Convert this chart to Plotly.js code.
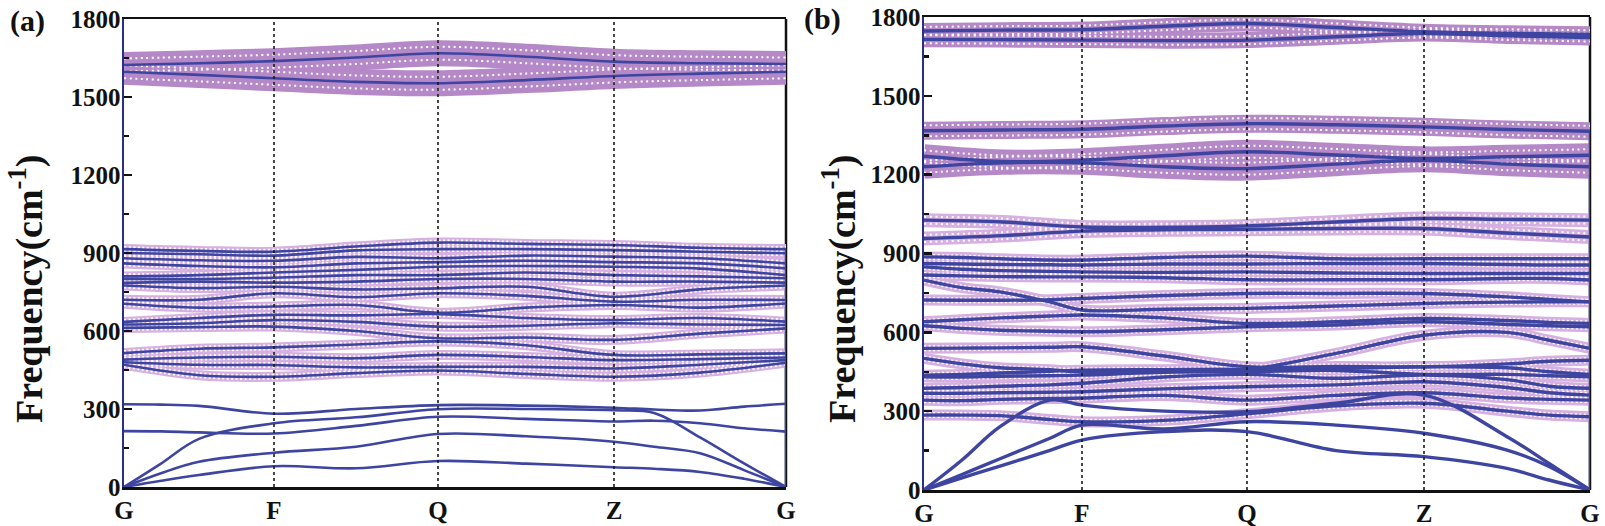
<!DOCTYPE html>
<html>
<head>
<meta charset="utf-8">
<script src="https://cdn.plot.ly/plotly-3.0.1.min.js"></script>
<style>
  html, body { margin: 0; padding: 0; background: #fff; }
  #chart { width: 1605px; height: 526px; }
</style>
</head>
<body>
<div id="chart"></div>
<script>
// ---------- k-path ----------
const kLabels = ['G', 'F', 'Q', 'Z', 'G'];

// ---------- panel (a) ----------
const kTicksA = [0, 150, 314, 490, 662];
const kA = [0, 75, 150, 232, 314, 402, 490, 576, 662];
const kALow = [0, 37, 75, 150, 232, 314, 402, 490, 530, 576, 620, 662];

// acoustic and low optical branches (kALow)
const aLow1 = [0, 24, 46, 80, 72, 100, 90, 76, 70, 58, 32, 0];
const aLow2 = [0, 53, 97, 132, 155, 204, 195, 174, 155, 130, 65, 0];
const aLow3 = [0, 90, 185, 245, 268, 299, 300, 295, 285, 191, 91, 0];
const aLow4 = [215, 214, 210, 206, 235, 270, 262, 252, 255, 245, 226, 213];
const aLow5 = [318, 317, 312, 282, 300, 315, 313, 305, 298, 294, 309, 320];

// 400-950 cm-1 group (kA)
const aMid1  = [470, 430, 424, 438, 448, 435, 424, 440, 478];
const aMid2  = [480, 470, 469, 460, 462, 462, 456, 470, 488];
const aMid3  = [490, 498, 501, 495, 508, 500, 488, 492, 498];
const aMid4  = [515, 532, 537, 548, 560, 545, 508, 510, 514];
const aMid5  = [612, 615, 617, 600, 572, 575, 566, 590, 610];
const aMid6  = [625, 630, 642, 635, 617, 620, 630, 625, 623];
const aMid7  = [635, 650, 662, 660, 665, 650, 642, 650, 636];
const aMid8  = [705, 690, 694, 700, 670, 690, 700, 690, 706];
const aMid9  = [720, 720, 745, 730, 745, 735, 713, 720, 719];
const aMid10 = [775, 765, 770, 760, 764, 770, 732, 760, 775];
const aMid11 = [785, 790, 786, 790, 800, 800, 790, 790, 786];
const aMid12 = [800, 800, 805, 815, 815, 825, 815, 810, 803];
const aMid13 = [810, 815, 825, 835, 847, 850, 847, 840, 815];
const aMid14 = [860, 850, 845, 860, 865, 870, 865, 860, 841];
const aMid15 = [880, 872, 870, 885, 880, 890, 886, 880, 860];
const aMid16 = [900, 895, 890, 910, 915, 915, 911, 905, 899];
const aMid17 = [915, 908, 905, 925, 940, 935, 931, 920, 915];

// 1500-1700 cm-1 group (kA)
const aHigh1 = [1623, 1630, 1638, 1652, 1668, 1655, 1636, 1630, 1627];
const aHigh2 = [1597, 1585, 1572, 1558, 1553, 1565, 1581, 1590, 1597];

// ---------- panel (b) ----------
const kTicksB = [0, 158, 323, 500, 666];
const kB = [0, 79, 158, 240, 323, 412, 500, 583, 666];
const kBLow = [0, 38, 76, 126, 158, 240, 323, 412, 500, 583, 625, 666];

// 0-900 cm-1 branches (kBLow)
const bLow1  = [0, 46, 91, 151, 190, 222, 222, 150, 127, 82, 38, 0];
const bLow2  = [0, 59, 119, 197, 247, 232, 260, 247, 216, 152, 90, 0];
const bLow3  = [0, 114, 241, 342, 323, 300, 298, 330, 361, 203, 101, 0];
const bLow4  = [285, 285, 283, 268, 260, 265, 290, 320, 330, 300, 285, 279];
const bLow5  = [342, 340, 345, 348, 350, 360, 342, 360, 370, 350, 345, 342];
const bLow6  = [368, 368, 370, 372, 374, 385, 393, 400, 412, 390, 370, 361];
const bLow7  = [387, 390, 395, 400, 406, 430, 440, 425, 437, 420, 395, 387];
const bLow8  = [431, 430, 433, 435, 437, 448, 450, 455, 440, 440, 435, 431];
const bLow9  = [437, 440, 445, 452, 456, 458, 460, 462, 469, 465, 450, 440];
const bLow10 = [501, 480, 465, 458, 449, 452, 458, 520, 589, 600, 570, 539];
const bLow11 = [539, 540, 541, 543, 545, 510, 469, 470, 469, 480, 490, 494];
const bLow12 = [625, 615, 608, 604, 602, 610, 621, 628, 640, 630, 625, 621];
const bLow13 = [640, 648, 655, 662, 666, 655, 634, 640, 653, 645, 638, 634];
const bLow14 = [723, 722, 722, 724, 729, 740, 748, 748, 748, 735, 725, 716];
const bLow15 = [799, 770, 754, 716, 685, 688, 691, 700, 710, 715, 716, 716];
const bLow16 = [818, 815, 812, 811, 811, 808, 800, 800, 800, 805, 805, 799];
const bLow17 = [849, 840, 835, 832, 830, 828, 830, 826, 824, 824, 824, 824];
const bLow18 = [862, 860, 858, 857, 856, 860, 860, 862, 862, 858, 856, 856];
const bLow19 = [887, 885, 880, 875, 875, 885, 890, 880, 880, 880, 880, 880];

// 900-1050 cm-1 (kB)
const bMid1 = [1027, 1020, 1001, 1000, 1005, 1020, 1033, 1030, 1027];
const bMid2 = [957, 968, 985, 990, 992, 995, 995, 978, 963];
// 1180-1300 cm-1 (kB)
const bCH1 = [1270, 1250, 1255, 1272, 1287, 1275, 1262, 1268, 1274];
const bCH2 = [1230, 1245, 1245, 1230, 1223, 1240, 1255, 1240, 1230];
// ~1370 cm-1 (kB)
const bCN1 = [1367, 1370, 1373, 1385, 1394, 1390, 1382, 1372, 1365];
// 1700-1780 cm-1 (kB)
const bCO1 = [1747, 1750, 1752, 1765, 1775, 1760, 1744, 1738, 1734];
const bCO2 = [1715, 1714, 1712, 1710, 1712, 1725, 1737, 1728, 1722];

// ---------- drawing ----------
const W = 1605, H = 526;
const FONT = '"Liberation Serif", "Times New Roman", serif';
const BLUE = '#3d45a0';
const PURPLE = '#b588c8';
const PINK = '#d6b0e0';
const YMAX = 1800;

// plot rectangles in pixels
const boxA = { x0: 124, x1: 786, y0: 19, y1: 487 };
const boxB = { x0: 924, x1: 1590, y0: 17, y1: 490 };

const halos = [], dots = [], lines = [];

function trace(x, y, xa, ya, line) {
  return { x: x, y: y, xaxis: xa, yaxis: ya, mode: 'lines',
    line: Object.assign({ shape: 'spline' }, line), hoverinfo: 'skip', showlegend: false };
}

// st.halo: width of the projection band around each branch (px)
// st.ring: inner open width for thin rings (px); st.dotPx: offset of the open-circle rows (px)
function addGroup(grid, bands, xa, ya, box, st) {
  const unitPerPx = YMAX / (box.y1 - box.y0);
  bands.forEach(y => {
    if (st.halo) halos.push(trace(grid, y, xa, ya, { color: st.haloColor, width: st.halo }));
    if (st.ring) dots.push(trace(grid, y, xa, ya, { color: '#ffffff', width: st.ring, dash: '2px,2.5px' }));
    if (st.dotPx) {
      [-1, 1].forEach(s => {
        dots.push(trace(grid, y.map(v => v + s * st.dotPx * unitPerPx), xa, ya,
          { color: '#ffffff', width: 2, dash: '2px,3.5px' }));
      });
    }
    lines.push(trace(grid, y, xa, ya, { color: BLUE, width: st.lw }));
  });
}

// panel (a)
addGroup(kALow, [aLow1, aLow2, aLow3, aLow4, aLow5], 'x', 'y', boxA, { lw: 2.6 });
addGroup(kA, [aMid1, aMid2, aMid3, aMid4, aMid5, aMid6, aMid7, aMid8, aMid9, aMid10,
              aMid11, aMid12, aMid13, aMid14, aMid15, aMid16, aMid17], 'x', 'y', boxA,
         { lw: 2.6, halo: 10, haloColor: PINK, ring: 6 });
addGroup(kA, [aHigh1, aHigh2], 'x', 'y', boxA,
         { lw: 2.6, halo: 26, haloColor: PURPLE, dotPx: 6.5 });

// panel (b)
addGroup(kBLow, [bLow1, bLow2, bLow3], 'x2', 'y2', boxB, { lw: 3.4 });
addGroup(kBLow, [bLow4, bLow5, bLow6, bLow7, bLow8, bLow9, bLow10, bLow11, bLow12, bLow13,
                 bLow14, bLow15, bLow16, bLow17, bLow18, bLow19], 'x2', 'y2', boxB,
         { lw: 3.4, halo: 11, haloColor: PINK, ring: 6 });
addGroup(kB, [bMid1, bMid2], 'x2', 'y2', boxB, { lw: 3.4, halo: 14, haloColor: PINK, dotPx: 3.5 });
addGroup(kB, [bCH1, bCH2], 'x2', 'y2', boxB, { lw: 3.4, halo: 24, haloColor: PURPLE, dotPx: 6 });
addGroup(kB, [bCN1], 'x2', 'y2', boxB, { lw: 3.4, halo: 18, haloColor: PURPLE, dotPx: 5.5 });
addGroup(kB, [bCO1, bCO2], 'x2', 'y2', boxB, { lw: 3.4, halo: 16, haloColor: PURPLE, dotPx: 4 });

// band edge at the closing G point
function edgeTrace(k, top, xa, ya) {
  return { x: [k, k], y: [0, top], xaxis: xa, yaxis: ya, mode: 'lines',
    line: { color: BLUE, width: 2.5 }, hoverinfo: 'skip', showlegend: false, cliponaxis: false };
}
const edges = [
  edgeTrace(kTicksA[4], aMid17[aMid17.length - 1], 'x', 'y'),
  edgeTrace(kTicksB[4], bCN1[bCN1.length - 1], 'x2', 'y2')
];

const data = halos.concat(dots, lines, edges);

function xAxis(box, ticks, anchor) {
  return {
    domain: [box.x0 / W, box.x1 / W], anchor: anchor,
    range: [0, ticks[ticks.length - 1]],
    tickmode: 'array', tickvals: ticks, ticktext: kLabels,
    ticks: '', showline: true, linecolor: '#111', linewidth: 2.5, mirror: true,
    showgrid: false, zeroline: false, ticklabelstandoff: -1,
    tickfont: { family: FONT, size: 25, weight: 'bold', color: '#111' },
    fixedrange: true
  };
}
function yAxis(box, anchor) {
  return {
    domain: [1 - box.y1 / H, 1 - box.y0 / H], anchor: anchor,
    range: [0, YMAX],
    tickmode: 'array', tickvals: [0, 300, 600, 900, 1200, 1500, 1800],
    ticks: 'inside', ticklen: 8, tickwidth: 2.5, tickcolor: '#111',
    minor: { tickmode: 'array', tickvals: [150, 450, 750, 1050, 1350, 1650],
             ticks: 'inside', ticklen: 5, tickwidth: 2.5, tickcolor: '#111' },
    showline: true, linecolor: '#2a2f85', linewidth: 2.5, mirror: false,
    showgrid: false, zeroline: false, ticklabelstandoff: -4,
    tickfont: { family: FONT, size: 25, weight: 'bold', color: '#111' },
    fixedrange: true
  };
}

function vlines(ticks, xref, yref) {
  const out = [];
  ticks.slice(1, -1).forEach(k => out.push({
    type: 'line', xref: xref, yref: yref + ' domain', x0: k, x1: k, y0: 0, y1: 1,
    line: { color: '#1a1a1a', width: 1.6, dash: '3px,3px' }, layer: 'above'
  }));
  out.push({ type: 'line', xref: xref + ' domain', yref: yref + ' domain', x0: 1, x1: 1, y0: 0, y1: 1,
    line: { color: '#111', width: 2.5 }, layer: 'below' });
  return out;
}

const boldFont = (size) => ({ family: FONT, size: size, weight: 'bold', color: '#111' });

const layout = {
  width: W, height: H,
  margin: { l: 0, r: 0, t: 0, b: 0 },
  paper_bgcolor: '#fff', plot_bgcolor: '#fff',
  showlegend: false,
  xaxis: xAxis(boxA, kTicksA, 'y'),
  yaxis: yAxis(boxA, 'x'),
  xaxis2: xAxis(boxB, kTicksB, 'y2'),
  yaxis2: yAxis(boxB, 'x2'),
  shapes: vlines(kTicksA, 'x', 'y').concat(vlines(kTicksB, 'x2', 'y2')),
  annotations: [
    { text: '(a)', xref: 'paper', yref: 'paper', x: 27 / W, y: 1 - 21 / H,
      xanchor: 'center', yanchor: 'middle', showarrow: false, font: boldFont(30) },
    { text: '(b)', xref: 'paper', yref: 'paper', x: 822 / W, y: 1 - 19 / H,
      xanchor: 'center', yanchor: 'middle', showarrow: false, font: boldFont(30) },
    { text: 'Frequency(cm<sup>-1</sup>)', xref: 'paper', yref: 'paper', x: 26 / W, y: 1 - 289 / H,
      xanchor: 'center', yanchor: 'middle', textangle: -90, showarrow: false, font: boldFont(38) },
    { text: 'Frequency(cm<sup>-1</sup>)', xref: 'paper', yref: 'paper', x: 839 / W, y: 1 - 289 / H,
      xanchor: 'center', yanchor: 'middle', textangle: -90, showarrow: false, font: boldFont(38) }
  ]
};

Plotly.newPlot('chart', data, layout, { staticPlot: true, displayModeBar: false });
</script>
</body>
</html>
